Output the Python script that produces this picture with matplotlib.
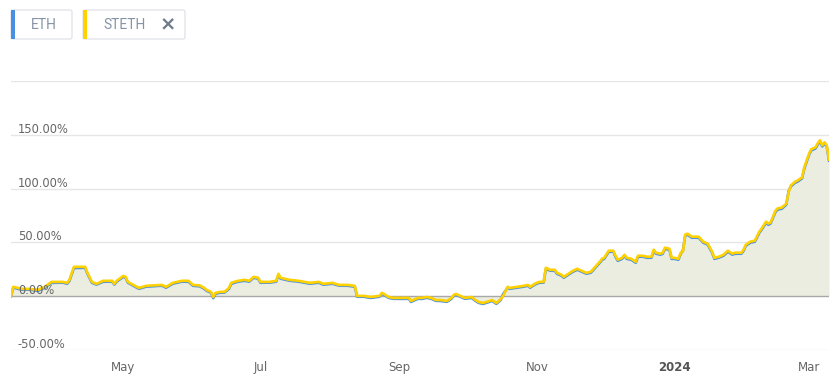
import matplotlib
matplotlib.use('Agg')
import matplotlib.pyplot as plt
import pandas as pd
from matplotlib.patches import FancyBboxPatch, Rectangle

# ---------------- data ----------------
start_date = '2023-03-12'
days = [0, 1, 3, 5, 8, 12, 15, 18, 23, 25,
        26, 28, 33, 34, 36, 38, 41, 45, 46, 47,
        50, 51, 52, 56, 57, 60, 67, 69, 72, 76,
        79, 81, 84, 86, 87, 89, 90, 91, 93, 95,
        97, 98, 101, 104, 106, 108, 110, 111, 115, 118,
        119, 120, 124, 128, 133, 137, 139, 143, 146, 150,
        153, 154, 157, 160, 164, 165, 166, 168, 170, 174,
        177, 178, 181, 183, 185, 187, 189, 191, 194, 196,
        197, 198, 200, 202, 205, 206, 208, 210, 213, 214,
        216, 218, 219, 221, 222, 225, 228, 230, 231, 233,
        235, 237, 238, 240, 242, 243, 245, 246, 248, 250,
        252, 254, 256, 258, 260, 262, 263, 264, 266, 268,
        269, 270, 272, 273, 274, 276, 278, 279, 281, 283,
        285, 286, 287, 289, 290, 291, 293, 294, 295, 297,
        298, 299, 300, 301, 303, 304, 306, 308, 310, 312,
        313, 315, 317, 319, 321, 322, 325, 326, 327, 329,
        331, 333, 334, 336, 337, 338, 340, 341, 343, 345,
        346, 347, 349, 350, 352, 353, 355, 356, 358, 359,
        360, 361, 362, 363, 364]

steth = [0.0, 8.7, 7.7, 6.8, 6.8, 5.9, 8.7, 13.3, 13.3, 12.4,
         15.2, 27.3, 27.3, 21.7, 13.3, 11.5, 14.3, 14.3, 11.5, 14.3,
         18.9, 18.0, 13.3, 8.7, 7.7, 9.6, 10.5, 8.7, 12.4, 14.3,
         14.3, 10.5, 10.0, 7.7, 5.9, 4.0, -0.7, 3.1, 4.0, 4.0,
         7.7, 12.4, 14.3, 15.2, 14.3, 18.0, 17.1, 13.3, 13.3, 14.3,
         20.8, 17.1, 15.2, 14.3, 12.4, 13.3, 11.5, 12.4, 10.5, 10.5,
         9.6, 0.3, 0.3, -0.7, 0.3, 3.1, 2.1, -0.7, -1.6, -1.6,
         -1.6, -4.4, -1.6, -1.6, -0.7, -1.6, -3.5, -3.5, -4.4, -1.6,
         1.2, 2.1, 0.3, -1.6, -0.7, -2.5, -5.3, -6.3, -4.4, -3.5,
         -6.3, -2.5, 0.3, 8.7, 7.7, 8.7, 9.6, 10.5, 8.7, 11.5,
         13.3, 13.3, 26.4, 24.5, 24.5, 21.7, 19.9, 18.0, 20.8, 23.6,
         25.5, 23.6, 21.7, 22.7, 27.3, 32.0, 34.8, 35.7, 42.3, 42.3,
         37.6, 33.9, 35.7, 38.5, 35.7, 34.8, 32.0, 37.6, 37.6, 36.7,
         36.7, 43.2, 40.4, 39.5, 40.4, 45.1, 44.1, 35.7, 35.7, 34.8,
         40.4, 41.3, 57.2, 58.1, 55.3, 55.3, 55.3, 50.7, 48.8, 41.3,
         35.7, 36.7, 38.5, 42.3, 39.5, 40.4, 40.4, 43.2, 47.9, 50.7,
         51.6, 60.0, 62.8, 69.3, 67.5, 68.4, 78.7, 81.5, 82.4, 86.1,
         96.4, 102.9, 106.6, 107.5, 110.4, 119.7, 131.8, 136.5, 138.4, 142.1,
         144.9, 140.2, 143.0, 140.2, 127.0]

eth = [0.0, 7.9, 6.9, 6.0, 6.1, 5.0, 7.8, 12.4, 12.6, 11.6,
       14.3, 26.2, 26.4, 20.9, 12.5, 10.8, 13.4, 13.6, 10.8, 13.5,
       18.0, 17.2, 12.6, 7.9, 6.9, 8.8, 9.8, 7.9, 11.6, 13.5,
       13.4, 9.7, 9.2, 6.9, 5.1, 3.2, -1.8, 2.3, 3.2, 3.3,
       6.9, 11.5, 13.5, 14.3, 13.5, 17.2, 16.2, 12.5, 12.6, 13.5,
       19.7, 16.3, 14.4, 13.5, 11.6, 12.5, 10.7, 11.6, 9.8, 9.7,
       8.8, -0.5, -0.5, -1.6, -0.5, 2.2, 1.3, -1.5, -2.4, -2.5,
       -2.4, -5.3, -2.4, -2.5, -1.5, -2.4, -4.3, -4.4, -5.2, -2.4,
       0.4, 1.3, -0.5, -2.4, -1.6, -3.3, -6.1, -7.2, -5.2, -4.3,
       -7.1, -3.3, 2.0, 7.9, 6.9, 7.9, 8.8, 9.7, 7.9, 10.7,
       12.5, 12.6, 25.4, 23.7, 23.6, 20.8, 19.0, 17.2, 19.9, 22.7,
       24.6, 22.8, 20.9, 21.8, 26.4, 31.1, 33.8, 34.8, 41.3, 41.4,
       36.6, 32.9, 34.8, 37.6, 34.7, 33.9, 31.1, 36.6, 36.8, 35.7,
       35.8, 42.2, 39.5, 38.6, 39.4, 44.1, 43.2, 34.6, 34.8, 33.9,
       39.4, 42.5, 56.2, 57.2, 54.3, 54.4, 54.3, 49.8, 47.9, 40.4,
       34.7, 35.8, 37.5, 41.3, 38.6, 39.4, 39.5, 42.2, 47.0, 49.7,
       50.6, 59.0, 61.8, 68.2, 66.4, 67.5, 77.6, 80.4, 81.3, 85.1,
       97.5, 102.0, 105.6, 106.4, 109.5, 118.6, 130.7, 135.4, 137.3, 141.0,
       143.8, 139.2, 141.9, 139.3, 126.0]

y_ticks = [-50, 0, 50, 100, 150, 200]
y_labels = ['-50.00%', '0.00%', '50.00%', '100.00%', '150.00%', '']
x_tick_dates = ['2023-05-01', '2023-07-01', '2023-09-01', '2023-11-01', '2024-01-01', '2024-03-01']
x_labels = ['May', 'Jul', 'Sep', 'Nov', '2024', 'Mar']
series_names = ['ETH', 'STETH']

# ---------------- figure ----------------
W, H = 839, 382
fig = plt.figure(figsize=(W / 100, H / 100), dpi=100)
ax = fig.add_axes([11 / W, 1 - 350 / H, 818 / W, 269 / H])

dates = pd.Timestamp(start_date) + pd.to_timedelta(days, unit='D')

ax.set_ylim(-50, 200)
ax.set_xlim(dates[0], dates[-1])

for t in y_ticks:
    if t != 0:
        ax.axhline(t, color='#e6e6e6', lw=1, zorder=0)

ax.fill_between(dates, eth, 0, color='#ecede1', lw=0, zorder=1)
ax.axhline(0, color='#a8a8a8', lw=1, zorder=2)
ax.plot(dates, eth, color='#4a90e2', lw=1.9, zorder=3, solid_joinstyle='round')
ax.plot(dates, steth, color='#ffd100', lw=1.9, zorder=4, solid_joinstyle='round')

for s in ax.spines.values():
    s.set_visible(False)
ax.set_yticks([])

for t, lab in zip(y_ticks, y_labels):
    if lab:
        ax.annotate(lab, xy=(0, t), xycoords=('axes fraction', 'data'),
                    xytext=(7, 2), textcoords='offset pixels',
                    ha='left', va='baseline', fontsize=8.3, color='#666666',
                    family='DejaVu Sans', zorder=5)

ax.set_xticks(pd.to_datetime(x_tick_dates))
ax.set_xticklabels(x_labels)
ax.tick_params(axis='x', length=0, pad=8)
for lab in ax.get_xticklabels():
    lab.set_family(['Liberation Sans Narrow', 'DejaVu Sans'])
    lab.set_fontsize(8.5)
    lab.set_color('#666666')
    if lab.get_text() == '2024':
        lab.set_fontweight('bold')
        lab.set_color('#555555')

# ---------------- legend chips ----------------
oax = fig.add_axes([0, 0, 1, 1])
oax.set_xlim(0, W)
oax.set_ylim(H, 0)
oax.axis('off')

chips = [(11, 61, '#4a90e2', series_names[0], 44, False),
         (83, 102, '#ffd100', series_names[1], 125, True)]
for x0, w, col, name, tx, closable in chips:
    oax.add_patch(FancyBboxPatch((x0, 10), w, 29,
                                 boxstyle='round,pad=0,rounding_size=2',
                                 fc='white', ec='#e2e5e9', lw=1))
    oax.add_patch(Rectangle((x0, 10), 4, 29, fc=col, ec='none'))
    oax.text(tx, 25, name, ha='center', va='center', fontsize=10,
             color='#8593a5', family='Roboto')
    if closable:
        oax.text(168, 25, '\u00d7', ha='center', va='center', fontsize=14,
                 color='#6f7c8c', fontweight='bold', family='DejaVu Sans')

fig.savefig('out.png', dpi=100)
